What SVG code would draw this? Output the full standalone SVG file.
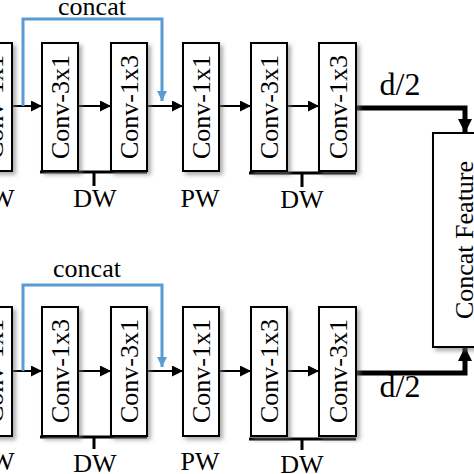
<svg xmlns="http://www.w3.org/2000/svg" width="474" height="474" viewBox="0 0 474 474">
<style>
.box{fill:#fff;stroke:#000;stroke-width:2;filter:url(#sh)}
.bt{font-family:"Liberation Serif","Times New Roman",serif;font-size:26px;fill:#000;text-anchor:middle}
.lbl{font-family:"Liberation Serif","Times New Roman",serif;font-size:26px;fill:#000;text-anchor:middle}
.d2{font-family:"Liberation Serif","Times New Roman",serif;font-size:32px;fill:#000;text-anchor:middle}
.ar{fill:none;stroke:#000;stroke-width:2;marker-end:url(#ah)}
.bl{fill:none;stroke:#5b9bd5;stroke-width:3;marker-end:url(#bh)}
.th{fill:none;stroke:#000;stroke-width:5;marker-end:url(#th)}
.br{fill:none;stroke:#000;stroke-width:3}
</style>
<defs>
<filter id="sh" x="-30%" y="-10%" width="160%" height="130%">
<feDropShadow dx="3" dy="3" stdDeviation="2" flood-color="#777" flood-opacity="0.6"/>
</filter>
<marker id="ah" viewBox="0 0 10 10" markerWidth="11" markerHeight="11" markerUnits="userSpaceOnUse" refX="10" refY="5" orient="auto"><path d="M0,0L10,5L0,10z" fill="#000"/></marker>
<marker id="bh" viewBox="0 0 10 10" markerWidth="10" markerHeight="10" markerUnits="userSpaceOnUse" refX="10" refY="5" orient="auto"><path d="M0,0L10,5L0,10z" fill="#5b9bd5"/></marker>
<marker id="th" viewBox="0 0 10 10" markerWidth="14" markerHeight="14" markerUnits="userSpaceOnUse" refX="10" refY="5" orient="auto"><path d="M0,0L10,5L0,10z" fill="#000"/></marker>
</defs>

<g id="connectors">
<path class="ar" d="M12,106H42"/><path class="ar" d="M78,106H111"/><path class="ar" d="M147,106H183"/><path class="ar" d="M219,106H251"/><path class="ar" d="M287,106H319"/>
<path class="ar" d="M12,371H42"/><path class="ar" d="M78,371H111"/><path class="ar" d="M147,371H183"/><path class="ar" d="M219,371H251"/><path class="ar" d="M287,371H319"/>
<path class="bl" d="M23,106V19H162V101"/>
<path class="bl" d="M23,371V285H162V367"/>
<path class="th" d="M356,108H465V133"/>
<path class="th" d="M356,373H465V347"/>
<path class="br" d="M40,172H147M94,172V186"/>
<path class="br" d="M249,173H356M302,173V187"/>
<path class="br" d="M40,437H147M94,437V449"/>
<path class="br" d="M249,439H356M302,439V450"/>
<text class="lbl" x="92" y="15">concat</text>
<text class="lbl" x="87" y="277">concat</text>
<text class="d2" x="400" y="95">d/2</text>
<text class="d2" x="400" y="397">d/2</text>
<text class="lbl" x="-5" y="207">PW</text>
<text class="lbl" x="95" y="207">DW</text>
<text class="lbl" x="200" y="207">PW</text>
<text class="lbl" x="302" y="208">DW</text>
<text class="lbl" x="-5" y="470">PW</text>
<text class="lbl" x="95" y="472">DW</text>
<text class="lbl" x="200" y="470">PW</text>
<text class="lbl" x="302" y="473">DW</text>
</g>

<g id="t0"><rect class="box" x="-24" y="43" width="36" height="128"/><text class="bt" transform="translate(-6,107) rotate(-90)" dy="0.35em">Conv-1x1</text></g>
<g id="t1"><rect class="box" x="42" y="43" width="36" height="128"/><text class="bt" transform="translate(60,107) rotate(-90)" dy="0.35em">Conv-3x1</text></g>
<g id="t2"><rect class="box" x="111" y="43" width="36" height="128"/><text class="bt" transform="translate(129,107) rotate(-90)" dy="0.35em">Conv-1x3</text></g>
<g id="t3"><rect class="box" x="183" y="43" width="36" height="128"/><text class="bt" transform="translate(201,107) rotate(-90)" dy="0.35em">Conv-1x1</text></g>
<g id="t4"><rect class="box" x="251" y="43" width="36" height="128"/><text class="bt" transform="translate(269,107) rotate(-90)" dy="0.35em">Conv-3x1</text></g>
<g id="t5"><rect class="box" x="319" y="43" width="37" height="128"/><text class="bt" transform="translate(337.5,107) rotate(-90)" dy="0.35em">Conv-1x3</text></g>

<g id="b0"><rect class="box" x="-24" y="307" width="36" height="129"/><text class="bt" transform="translate(-6,371) rotate(-90)" dy="0.35em">Conv-1x1</text></g>
<g id="b1"><rect class="box" x="42" y="307" width="36" height="129"/><text class="bt" transform="translate(60,371) rotate(-90)" dy="0.35em">Conv-1x3</text></g>
<g id="b2"><rect class="box" x="111" y="307" width="36" height="129"/><text class="bt" transform="translate(129,371) rotate(-90)" dy="0.35em">Conv-3x1</text></g>
<g id="b3"><rect class="box" x="183" y="307" width="36" height="129"/><text class="bt" transform="translate(201,371) rotate(-90)" dy="0.35em">Conv-1x1</text></g>
<g id="b4"><rect class="box" x="251" y="307" width="36" height="129"/><text class="bt" transform="translate(269,371) rotate(-90)" dy="0.35em">Conv-1x3</text></g>
<g id="b5"><rect class="box" x="319" y="307" width="37" height="129"/><text class="bt" transform="translate(337.5,371) rotate(-90)" dy="0.35em">Conv-3x1</text></g>

<g id="concat"><rect class="box" x="433" y="133" width="60" height="214"/><text class="bt" transform="translate(464,240) rotate(-90)" dy="0.35em">Concat Feature</text></g>
</svg>
